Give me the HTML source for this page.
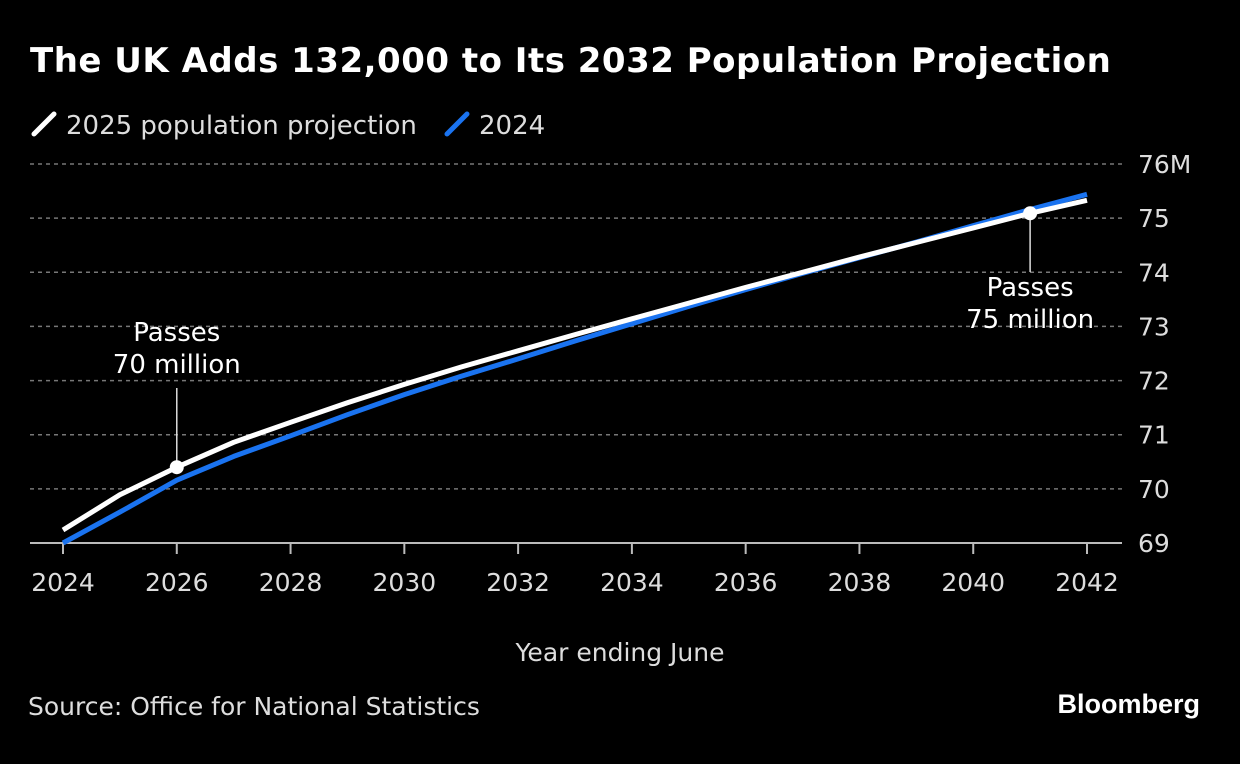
<!DOCTYPE html>
<html><head><meta charset="utf-8"><style>
body{margin:0;background:#000;width:1240px;height:764px;overflow:hidden;font-family:"DejaVu Sans","Liberation Sans",sans-serif;color:#ddd}
.t{position:absolute;left:30px;top:41px;font:bold 34px "DejaVu Sans",sans-serif;letter-spacing:0.5px;color:#fff;white-space:nowrap}
</style></head><body>
<div class="t">The UK Adds 132,000 to Its 2032 Population Projection</div>
<svg width="1240" height="764" style="position:absolute;left:0;top:0">
<g font-size="26" fill="#ddd">
<line x1="34" y1="134" x2="54" y2="114" stroke="#fff" stroke-width="5" stroke-linecap="round"/>
<text x="66" y="134">2025 population projection</text>
<line x1="447" y1="134" x2="467" y2="114" stroke="#1a73f0" stroke-width="5" stroke-linecap="round"/>
<text x="479" y="134">2024</text>
</g>
<g id="grid"></g><g id="xax"></g><g id="lines"></g><g id="ann"></g>
<text x="620" y="661" text-anchor="middle" font-size="25" fill="#ddd">Year ending June</text>
<text x="28" y="715" font-size="25" fill="#ddd">Source: Office for National Statistics</text>
<text x="1200" y="713" text-anchor="end" font-family="Liberation Sans" font-weight="bold" font-size="27" fill="#fff">Bloomberg</text>
</svg>
<script>
const years=[2024,2025,2026,2027,2028,2029,2030,2031,2032,2033,2034,2035,2036,2037,2038,2039,2040,2041,2042];
const proj2025=[69.24,69.89,70.40,70.86,71.23,71.59,71.93,72.25,72.55,72.85,73.14,73.43,73.72,74.00,74.28,74.55,74.82,75.09,75.33];
const proj2024=[69.00,69.57,70.16,70.60,70.98,71.37,71.74,72.08,72.40,72.73,73.05,73.37,73.68,73.98,74.27,74.56,74.86,75.16,75.44];
const yTicks=[69,70,71,72,73,74,75,76];
const yTickLabels=["69","70","71","72","73","74","75","76M"];
const xTicks=[2024,2026,2028,2030,2032,2034,2036,2038,2040,2042];
const ns="http://www.w3.org/2000/svg";
const X=v=>63+(v-2024)*(1087-63)/18;
const Y=v=>543-(v-69)*(543-164)/7;
function mk(t,a,p){const e=document.createElementNS(ns,t);for(const k in a)e.setAttribute(k,a[k]);p.appendChild(e);return e;}
const g=document.getElementById('grid');
yTicks.forEach((v,i)=>{
 if(v>69){const l=mk('line',{x1:30,x2:1122,y1:Y(v),y2:Y(v),stroke:'#777','stroke-width':1.5,'stroke-dasharray':'4 4'},g);
 
 }
 const t=mk('text',{x:1138,y:Y(v)+9,'font-size':25,fill:'#ddd'},g);t.textContent=yTickLabels[i];
 
 
});
const xa=document.getElementById('xax');
const base=mk('line',{x1:30,x2:1122,y1:543,y2:543,stroke:'#bbb','stroke-width':2},xa);


xTicks.forEach(v=>{
 const tk=mk('line',{x1:X(v),x2:X(v),y1:543,y2:554,stroke:'#bbb','stroke-width':2},xa);
 
 
 const t=mk('text',{x:X(v),y:591,'text-anchor':'middle','font-size':25,fill:'#ddd'},xa);t.textContent=v;
 
 
});
const L=document.getElementById('lines');
function path(vals){return vals.map((v,i)=>(i?'L':'M')+X(years[i]).toFixed(1)+' '+Y(v).toFixed(1)).join(' ');}
const pb=mk('path',{d:path(proj2024),fill:'none',stroke:'#1a73f0','stroke-width':5,'stroke-linejoin':'round'},L);


const pw=mk('path',{d:path(proj2025),fill:'none',stroke:'#fff','stroke-width':5,'stroke-linejoin':'round'},L);


const A=document.getElementById('ann');
function ann(i,y1,y2,lines,ty,name){
 const x=X(years[i]),y=Y(proj2025[i]);
 const l=mk('line',{x1:x,x2:x,y1:y1,y2:y2,stroke:'#ddd','stroke-width':1.5},A);
 
 
 const c=mk('circle',{cx:x,cy:y,r:7,fill:'#fff'},A);
 
 
 lines.forEach((s,k)=>{const t=mk('text',{x:x,y:ty+k*32,'text-anchor':'middle','font-size':26,fill:'#fff'},A);t.textContent=s;
 
 });
}
ann(2,388,Y(proj2025[2]),["Passes","70 million"],341,'annotation-70m');
ann(17,Y(proj2025[17]),272,["Passes","75 million"],296,'annotation-75m');
</script>
</body></html>
